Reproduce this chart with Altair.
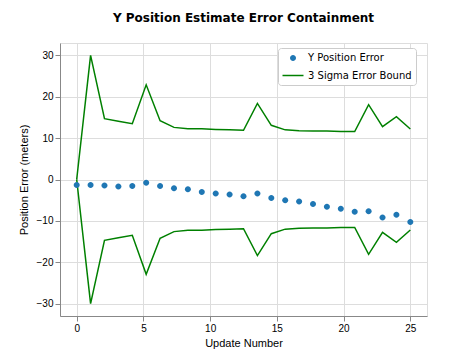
import altair as alt
import pandas as pd

update = [0, 1.042, 2.083, 3.125, 4.167, 5.208, 6.25, 7.292, 8.333, 9.375,
          10.417, 11.458, 12.5, 13.542, 14.583, 15.625, 16.667, 17.708, 18.75,
          19.792, 20.833, 21.875, 22.917, 23.958, 25]
y_error = [-1.3, -1.3, -1.45, -1.7, -1.6, -0.8, -1.6, -2.1, -2.35, -3.0,
           -3.4, -3.65, -4.05, -3.4, -4.45, -5.0, -5.3, -5.9, -6.6, -7.1,
           -7.8, -7.7, -9.2, -8.5, -10.3]
sigma3 = [0, 30.0, 14.7, 14.1, 13.5, 22.9, 14.2, 12.6, 12.25, 12.25,
          12.1, 12.0, 11.9, 18.4, 13.1, 12.0, 11.8, 11.75, 11.7, 11.6,
          11.6, 18.1, 12.8, 15.2, 12.2]
series = ["Y Position Error", "3 Sigma Error Bound"]
x_ticks = [0, 5, 10, 15, 20, 25]
y_ticks = [-30, -20, -10, 0, 10, 20, 30]

pts = pd.DataFrame({"update": update, "err": y_error, "series": series[0]})
rows = []
for side, sign in (("upper", 1), ("lower", -1)):
    for u, b in zip(update, sigma3):
        rows.append({"update": u, "bound": sign * b, "side": side, "series": series[1]})
bnd = pd.DataFrame(rows)

CIRCLE = "M0.6,0A0.6,0.6,0,1,1,-0.6,0A0.6,0.6,0,1,1,0.6,0Z"
LINE = "M-2.1,0H2.1"

leg = alt.Legend(title=None, orient="none", legendX=218, legendY=5,
                 strokeColor="#cccccc", fillColor="white", cornerRadius=3,
                 padding=4, labelFontSize=10, labelFont="DejaVu Sans",
                 labelColor="black", symbolSize=100, symbolStrokeWidth=1.5,
                 symbolOffset=5, labelOffset=9, rowPadding=5.5)

fill_scale = alt.Scale(domain=series, range=["#1f77b4", "transparent"])
stroke_scale = alt.Scale(domain=series, range=["transparent", "#008000"])
shape_scale = alt.Scale(domain=series, range=[CIRCLE, LINE])

minus_expr = "datum.value < 0 ? '\u2212' + abs(datum.value) : '' + datum.value"

x_enc = alt.X("update:Q", scale=alt.Scale(domain=[-1.25, 26.25], nice=False, zero=False),
              axis=alt.Axis(values=x_ticks, title="Update Number",
                            titleFontWeight="normal", labelExpr=minus_expr))

lines = alt.Chart(bnd).mark_line(strokeWidth=1.5).encode(
    x=x_enc,
    y=alt.Y("bound:Q", scale=alt.Scale(domain=[-33, 33], nice=False, zero=False),
            axis=alt.Axis(values=y_ticks, title="Position Error (meters)",
                          titleFontWeight="normal", labelExpr=minus_expr,
                          titlePadding=7)),
    stroke=alt.Stroke("series:N", scale=stroke_scale, legend=leg),
    detail="side:N",
)

points = alt.Chart(pts).mark_point(filled=True, size=100, opacity=1, strokeWidth=0).encode(
    x=x_enc,
    y=alt.Y("err:Q"),
    fill=alt.Fill("series:N", scale=fill_scale, legend=leg),
    stroke=alt.Stroke("series:N", scale=stroke_scale, legend=leg),
    shape=alt.Shape("series:N", scale=shape_scale, legend=leg),
)

chart = alt.layer(lines, points).properties(
    width=367, height=273,
    autosize=alt.AutoSizeParams(type="none"),
    padding={"left": 60, "top": 43, "right": 47, "bottom": 39},
    title=alt.TitleParams("Y Position Estimate Error Containment", fontSize=12,
                          fontWeight="bold", font="DejaVu Sans", color="black",
                          anchor="middle", baseline="alphabetic", offset=9),
).configure_view(stroke="black", strokeWidth=1).configure_axis(
    domain=False, grid=True, gridColor="#b0b0b0", gridWidth=1,
    tickColor="black", tickSize=3.6, tickWidth=0.8,
    labelFont="DejaVu Sans", labelFontSize=10, labelColor="black", labelPadding=3,
    titleFont="DejaVu Sans", titleFontSize=10, titleColor="black",
    titleFontWeight="normal",
).configure(background="white")

chart.save("out.html", embed_options={"renderer": "svg", "actions": False})
